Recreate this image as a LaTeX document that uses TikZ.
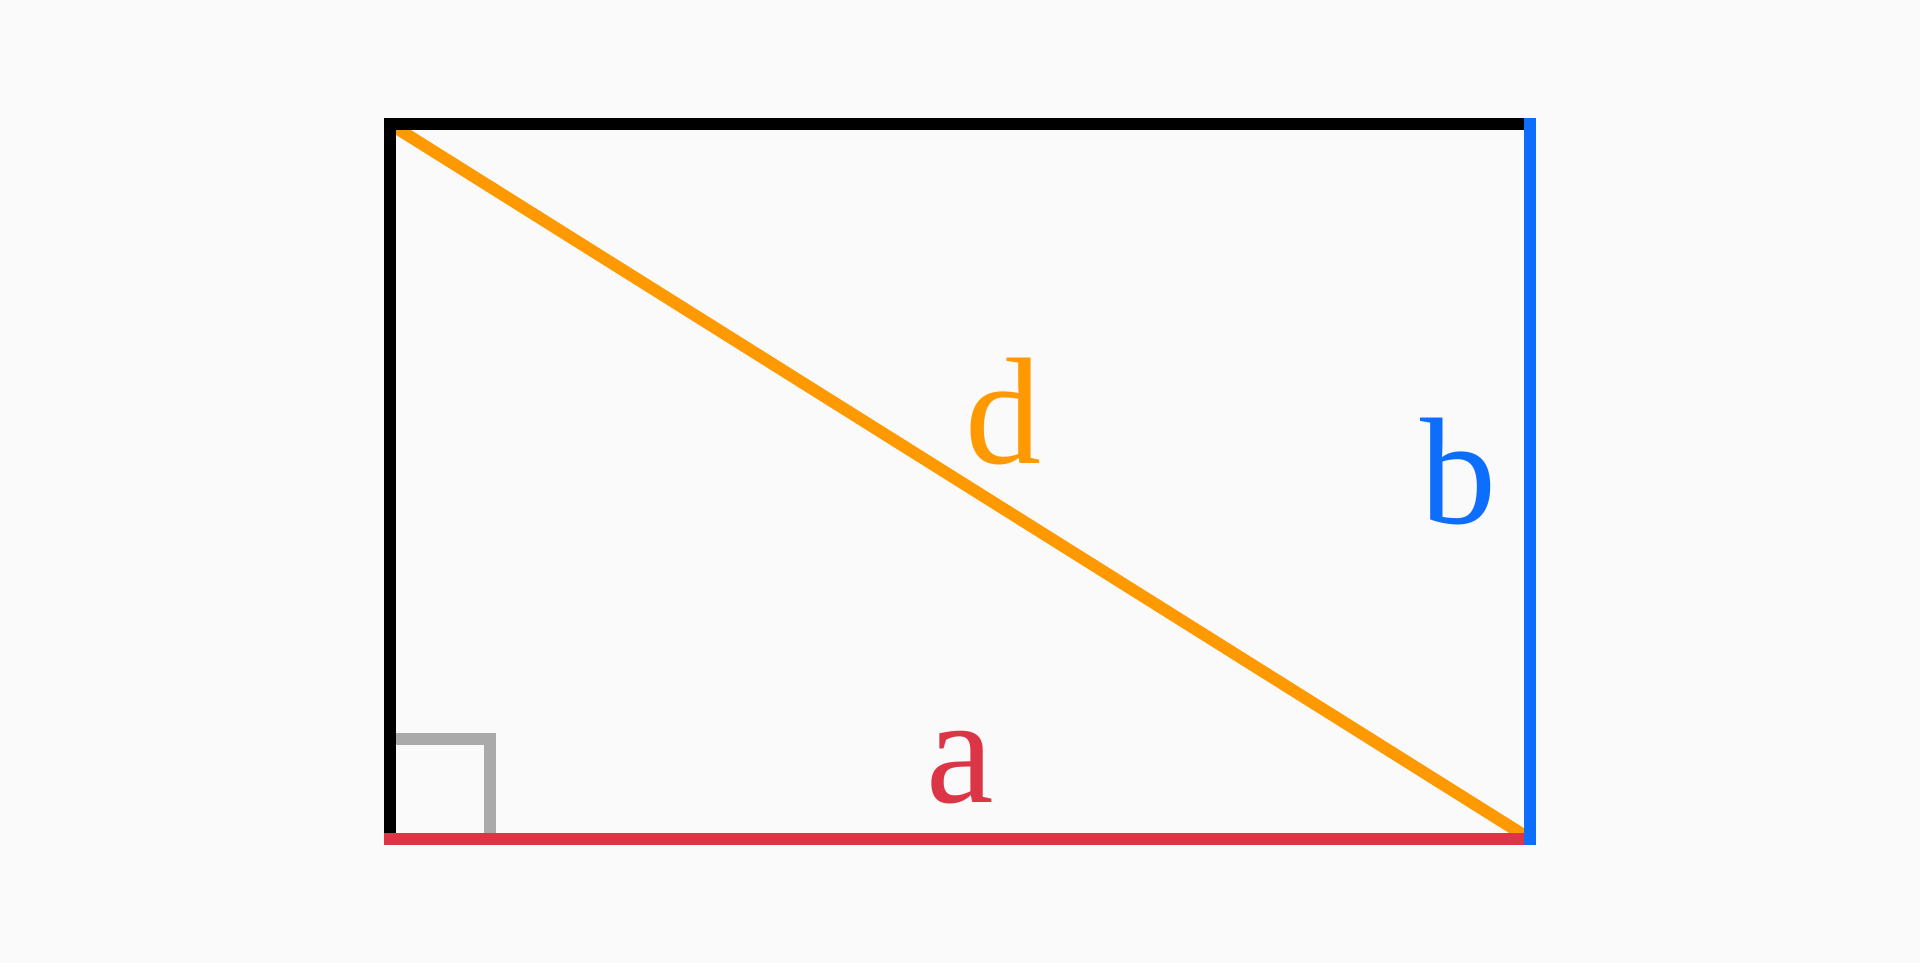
\documentclass[tikz,border=0pt]{standalone}
\usepackage{fontspec}
\setmainfont{Liberation Serif}
\definecolor{bg}{HTML}{FAFAFA}
\definecolor{dorange}{HTML}{FF9900}
\definecolor{ared}{HTML}{DC3545}
\definecolor{bblue}{HTML}{0D6EFD}
\definecolor{mgray}{HTML}{AAAAAA}
\tikzset{
  side/.style={line width=6pt, line cap=rect, line join=miter},
  lbl/.style={inner sep=0pt, font=\fontsize{76}{90}\selectfont}
}
\begin{document}
\begin{tikzpicture}[x=0.5pt,y=-0.5pt]
\fill[bg] (0,0) rectangle (1920,963);
\useasboundingbox (0,0) rectangle (1920,963);
\coordinate (TL) at (390,124);
\coordinate (TR) at (1530,124);
\coordinate (BL) at (390,839);
\coordinate (BR) at (1530,839);
\coordinate (M1) at (390,739);
\coordinate (M2) at (490,739);
\coordinate (M3) at (490,839);
% right-angle marker
\draw[side, mgray, line cap=butt] (M1) -- (M2) -- (M3);
% diagonal
\draw[side, dorange, line cap=butt] (TL) -- (BR);
% left and top sides
\draw[side, black] (BL) -- (TL) -- (TR);
% bottom side
\draw[side, ared] (BL) -- (BR);
% right side
\draw[side, bblue] (TR) -- (BR);
% labels
\node[lbl, text=ared] (la) at (960,767.5) {a};
\node[lbl, text=bblue] (lb) at (1458,471.5) {b};
\node[lbl, text=dorange] (ld) at (1003,411.5) {d};
\end{tikzpicture}
\end{document}
